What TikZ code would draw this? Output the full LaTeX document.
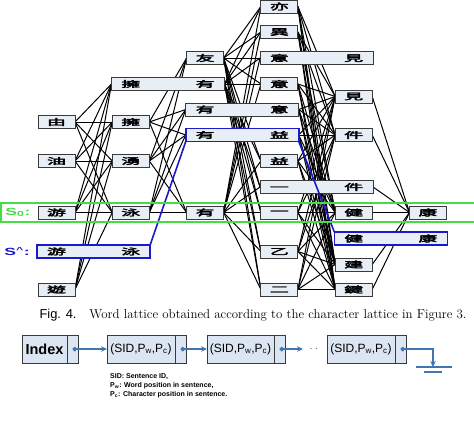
\documentclass[tikz,border=0pt]{standalone}
\usepackage{fontspec}
\usepackage{graphicx}
\newfontfamily\cjk{Noto Sans CJK TC}[FakeBold=3]
\newfontfamily\arial{Liberation Sans}
\usetikzlibrary{arrows.meta,positioning,backgrounds}

\definecolor{boxfill}{HTML}{E8EEF6}
\definecolor{boxline}{HTML}{3A3A3A}
\definecolor{pathblue}{HTML}{1A1ACC}
\definecolor{sgreen}{HTML}{44DD44}
\definecolor{linkblue}{HTML}{3F74B5}
\definecolor{cellfill}{HTML}{DCE6F2}

\newcommand{\zi}[1]{\scalebox{1.9}[0.85]{\cjk\fontsize{10}{10}\selectfont #1}}
\newcommand{\ci}[2]{\zi{#1}\hspace{55.3pt}\zi{#2}}

\tikzset{
  wd/.style={draw=boxline,fill=boxfill,line width=1pt,minimum width=37pt,minimum height=13pt,inner sep=0pt,outer sep=0pt},
  wd2/.style={wd,minimum width=113pt},
  sel/.style={draw=pathblue,line width=1.6pt},
  lnk/.style={line width=1pt},
  cell/.style={draw=boxline,fill=cellfill,line width=1pt,minimum height=28pt,inner sep=0pt,outer sep=0pt,font=\arial\fontsize{12}{12}\selectfont},
  ptr/.style={cell,minimum width=11pt},
  chain/.style={linkblue,line width=1.2pt,{Circle[length=4.5pt]}-{Stealth[length=6pt,width=5.5pt]}}
}

\begin{document}
\begin{tikzpicture}[x=1pt,y=-1pt]
\useasboundingbox (0,0) rectangle (474,421);

% first column
\node[wd] (a1) at (56.5,122) {\zi{由}};
\node[wd] (a2) at (56.5,161) {\zi{油}};
\node[wd] (a3) at (56.5,212.5) {\zi{游}};
\node[wd] (a4) at (56.5,289.5) {\zi{遊}};
% second column
\node[wd2] (b0) at (168,84) {\ci{擁}{有}};
\node[wd] (b1) at (130.8,122) {\zi{擁}};
\node[wd] (b2) at (130.8,161) {\zi{湧}};
\node[wd] (b3) at (130.8,212.5) {\zi{泳}};
% third column
\node[wd] (c1) at (205.1,58) {\zi{友}};
\node[wd2] (c2) at (242.25,109.5) {\ci{有}{意}};
\node[wd2,sel] (c3) at (242.25,135) {\ci{有}{益}};
\node[wd] (c4) at (205.1,212.5) {\zi{有}};
% fourth column
\node[wd] (d1) at (279.4,6.5) {\zi{亦}};
\node[wd] (d2) at (279.4,32) {\zi{異}};
\node[wd2] (d3) at (316.55,58) {\ci{意}{見}};
\node[wd] (d4) at (279.4,84) {\zi{意}};
\node[wd] (d5) at (279.4,161) {\zi{益}};
\node[wd2] (d6) at (316.55,187) {\ci{一}{件}};
\node[wd] (d7) at (279.4,212.5) {\zi{一}};
\node[wd] (d8) at (279.4,251.5) {\zi{乙}};
\node[wd] (d9) at (279.4,289.5) {\zi{二}};
% fifth column
\node[wd] (e1) at (353.7,96.5) {\zi{見}};
\node[wd] (e2) at (353.7,135) {\zi{件}};
\node[wd] (e3) at (353.7,212.5) {\zi{健}};
\node[wd2,sel] (e4) at (390.85,238.5) {\ci{健}{康}};
\node[wd] (e5) at (353.7,264.5) {\zi{建}};
\node[wd] (e6) at (353.7,289.5) {\zi{鍵}};
% last column
\node[wd] (f1) at (428,212.5) {\zi{康}};
% best path
\node[wd2,sel] (s1) at (93.65,251.5) {\ci{游}{泳}};

\begin{scope}[on background layer]
\foreach \s in {a1,a2,a3,a4}
  \foreach \t in {b0,b1,b2,b3}
    \draw[lnk] (\s.east) -- (\t.west);
\foreach \s in {b1,b2,b3}
  \foreach \t in {c1,c2,c3,c4}
    \draw[lnk] (\s.east) -- (\t.west);
\foreach \s in {c1,b0,c4}
  \foreach \t in {d1,d2,d3,d4,d5,d6,d7,d8,d9}
    \draw[lnk] (\s.east) -- (\t.west);
\foreach \s in {d1,d2,d4,c2,c3,d5,d7,d8,d9}
  \foreach \t in {e1,e2,e3,e5,e6}
    \draw[lnk] (\s.east) -- (\t.west);
\foreach \s in {d6,e1,e2,e3,e5,e6}
  \draw[lnk] (\s.east) -- (f1.west);
\end{scope}

\draw[pathblue,line width=1.6pt] (s1.north east) -- (c3.south west);
\draw[pathblue,line width=1.6pt] (c3.south east) -- (e4.north west);

\draw[sgreen,line width=1.8pt] (476,203) -| (1,222) -- (476,222);
\node[sgreen,font=\arial\bfseries\fontsize{13}{13}\selectfont] (s0lab) at (18,212.5) {\scalebox{1.35}[0.8]{S\textsubscript{0}:}};
\node[pathblue,font=\arial\bfseries\fontsize{13}{13}\selectfont] (shlab) at (17,251.5) {\scalebox{1.35}[0.8]{S\textsuperscript{\^{}}:}};

\node (cap4) at (253,315) {\fontsize{12.9}{13}\selectfont{\arial Fig. 4.}\quad Word lattice obtained according to the character lattice in Figure 3.};

% posting list
\node[cell,minimum width=45pt] (idx) at (44.5,349) {\bfseries\fontsize{14.5}{15}\selectfont Index};
\node[ptr,right=0pt of idx] (idxp) {};
\node[cell,minimum width=68pt] (r1) at (141,349) {(SID,P\textsubscript{w},P\textsubscript{c})};
\node[ptr,right=0pt of r1] (r1p) {};
\node[cell,minimum width=67pt] (r2) at (240.5,349) {(SID,P\textsubscript{w},P\textsubscript{c})};
\node[ptr,right=0pt of r2] (r2p) {};
\node[cell,minimum width=68pt] (r3) at (361,349) {(SID,P\textsubscript{w},P\textsubscript{c})};
\node[ptr,right=0pt of r3] (r3p) {};
\coordinate (gap) at (303,349);
\node[text=boxline,font=\bfseries] (dots) at (314,349) {$\cdot\;\cdot$};
\coordinate (gnd) at (433,367);

\draw[chain] (idxp.center) -- (r1.west);
\draw[chain] (r1p.center) -- (r2.west);
\draw[chain] (r2p.center) -- (gap);
\draw[chain] (r3p.center) -| (gnd);
\draw[linkblue,line width=1.3pt] (gnd) ++(-17,0) -- ++(36,0);
\draw[linkblue,line width=1.3pt] (gnd) ++(-9,5) -- ++(18,0);

\node[anchor=north west,align=left,inner sep=0pt,font=\arial\bfseries\fontsize{7}{9}\selectfont] (notes) at (110,373)
  {SID: Sentence ID,\\ P\textsubscript{w}: Word position in sentence,\\ P\textsubscript{c}: Character position in sentence.};
\end{tikzpicture}
\end{document}
